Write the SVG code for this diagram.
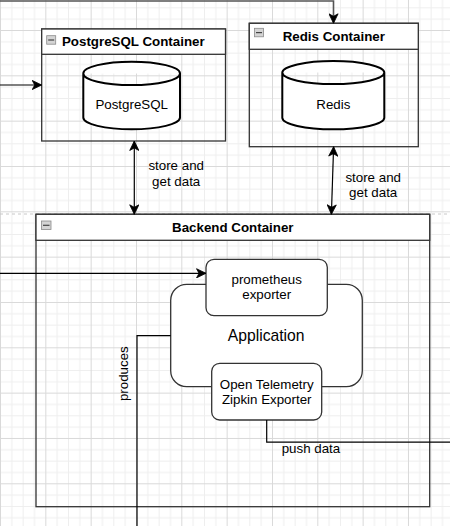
<svg xmlns="http://www.w3.org/2000/svg" width="450" height="526" viewBox="0 0 450 526">
  <style>
    text { font-family: "Liberation Sans", Arial, sans-serif; fill: #000; }
    .title { font-size: 13.33px; font-weight: bold; text-anchor: middle; }
    .lbl { font-size: 13.33px; text-anchor: middle; }
    .elbl { font-size: 13.33px; }
    .app { font-size: 15.7px; text-anchor: middle; }
    .cont { fill: none; stroke: #333; stroke-width: 1.3; }
    .head { fill: #fff; stroke: #333; stroke-width: 1.3; }
    .cyl { fill: #fff; stroke: #000; stroke-width: 2; }
    .rbox { fill: #fff; stroke: #333; stroke-width: 1.3; }
    .icon { fill: #d4d4d4; stroke: #8a8a8a; stroke-width: 0.8; }
    .iconln { stroke: #444; stroke-width: 1.2; }
    .edge { fill: none; stroke: #000; stroke-width: 1.2; }
  </style>
  <defs>
    <pattern id="grid" patternUnits="userSpaceOnUse" x="0" y="30" width="45.33" height="45.33">
      <rect x="0" y="11.33" width="45.33" height="1" fill="#eeeeee"/>
      <rect x="0" y="22.67" width="45.33" height="1" fill="#eeeeee"/>
      <rect x="0" y="34" width="45.33" height="1" fill="#eeeeee"/>
      <rect x="11.33" y="0" width="1" height="45.33" fill="#eeeeee"/>
      <rect x="22.67" y="0" width="1" height="45.33" fill="#eeeeee"/>
      <rect x="34" y="0" width="1" height="45.33" fill="#eeeeee"/>
      <rect x="0" y="0" width="45.33" height="1" fill="#d9d9d9"/>
      <rect x="0" y="0" width="1" height="45.33" fill="#d9d9d9"/>
    </pattern>
    <marker id="arr" markerUnits="userSpaceOnUse" viewBox="-10 -5 11 10" refX="0" refY="0" markerWidth="11" markerHeight="10" orient="auto-start-reverse">
      <path d="M0,0 L-9.5,-4.6 L-7,0 L-9.5,4.6 Z" fill="#000" stroke="#000" stroke-width="0.8"/>
    </marker>
  </defs>

  <rect x="0" y="0" width="450" height="526" fill="#fff"/>
  <rect x="0" y="0" width="450" height="526" fill="url(#grid)"/>
  <line x1="0" y1="214" x2="450" y2="214" stroke="#c8c8c8" stroke-width="1" stroke-dasharray="3,3"/>

  <g id="postgres-container">
    <rect class="cont" x="41.7" y="29" width="183.8" height="112"/>
    <rect class="head" x="41.7" y="29" width="183.8" height="25.3"/>
    <rect class="icon" x="46.7" y="35.7" width="9" height="8.5"/>
    <line class="iconln" x1="48.2" y1="40" x2="54.2" y2="40"/>
    <text class="title" x="133.3" y="46.3">PostgreSQL Container</text>
  </g>
  <g id="postgres-db">
    <path class="cyl" d="M83.3,73.4 A48.35,11.7 0 0 1 180,73.4 V117.6 A48.35,11.7 0 0 1 83.3,117.6 Z M83.3,73.4 A48.35,11.7 0 0 0 180,73.4"/>
    <text class="lbl" x="131.7" y="109">PostgreSQL</text>
  </g>

  <g id="redis-container">
    <rect class="cont" x="249.3" y="23.3" width="169" height="123.4"/>
    <rect class="head" x="249.3" y="23.3" width="169" height="26"/>
    <rect class="icon" x="254.5" y="28.3" width="9" height="8.5"/>
    <line class="iconln" x1="256" y1="32.6" x2="262" y2="32.6"/>
    <text class="title" x="333.8" y="41">Redis Container</text>
  </g>
  <g id="redis-db">
    <path class="cyl" d="M282.3,72.6 A51,11.5 0 0 1 384.3,72.6 V117.8 A51,11.5 0 0 1 282.3,117.8 Z M282.3,72.6 A51,11.5 0 0 0 384.3,72.6"/>
    <text class="lbl" x="333.3" y="108.5">Redis</text>
  </g>

  <g id="backend-container">
    <rect class="cont" x="36" y="214.3" width="393.7" height="292.4"/>
    <rect class="head" x="36" y="214.3" width="393.7" height="26"/>
    <rect class="icon" x="41.5" y="221" width="9.5" height="8.5"/>
    <line class="iconln" x1="43" y1="225.3" x2="49.5" y2="225.3"/>
    <text class="title" x="232.8" y="232">Backend Container</text>
  </g>

  <g id="application">
    <rect class="rbox" x="170.7" y="284.3" width="191.6" height="102.4" rx="16" ry="16"/>
    <text class="app" x="266.2" y="340.8">Application</text>
  </g>

  <g id="prometheus-exporter">
    <rect class="rbox" x="206" y="259.3" width="121.3" height="56.4" rx="8" ry="8"/>
    <text class="lbl" x="266.7" y="283.5">prometheus</text>
    <text class="lbl" x="266.7" y="299.2">exporter</text>
  </g>

  <g id="zipkin-exporter">
    <rect class="rbox" x="211.7" y="363.3" width="110" height="56.7" rx="8" ry="8"/>
    <text class="lbl" x="266.7" y="388.5">Open Telemetry</text>
    <text class="lbl" x="266.7" y="404.2">Zipkin Exporter</text>
  </g>

  <g id="connectors">
    <path d="M0,1 H333.5 V23.3" fill="none" stroke="#555" stroke-width="1.6" marker-end="url(#arr)"/>
    <path class="edge" d="M0,85 H41.7" marker-end="url(#arr)"/>
    <path class="edge" d="M134.3,141 V214.3" marker-start="url(#arr)" marker-end="url(#arr)"/>
    <path class="edge" d="M333.6,146.7 L331.4,214.3" marker-start="url(#arr)" marker-end="url(#arr)"/>
    <path class="edge" d="M0,273.3 H206" marker-end="url(#arr)"/>
    <path class="edge" d="M170.7,335.7 H137 V526"/>
    <path class="edge" d="M266.7,420 V442.2 H450"/>
    <text class="lbl" x="176.2" y="170.3">store and</text>
    <text class="lbl" x="176.2" y="185.5">get data</text>
    <text class="lbl" x="373.2" y="182">store and</text>
    <text class="lbl" x="373.2" y="197.2">get data</text>
    <text class="lbl" transform="translate(128.3,373.7) rotate(-90)">produces</text>
    <text class="elbl" x="281.7" y="453">push data</text>
  </g>
</svg>
